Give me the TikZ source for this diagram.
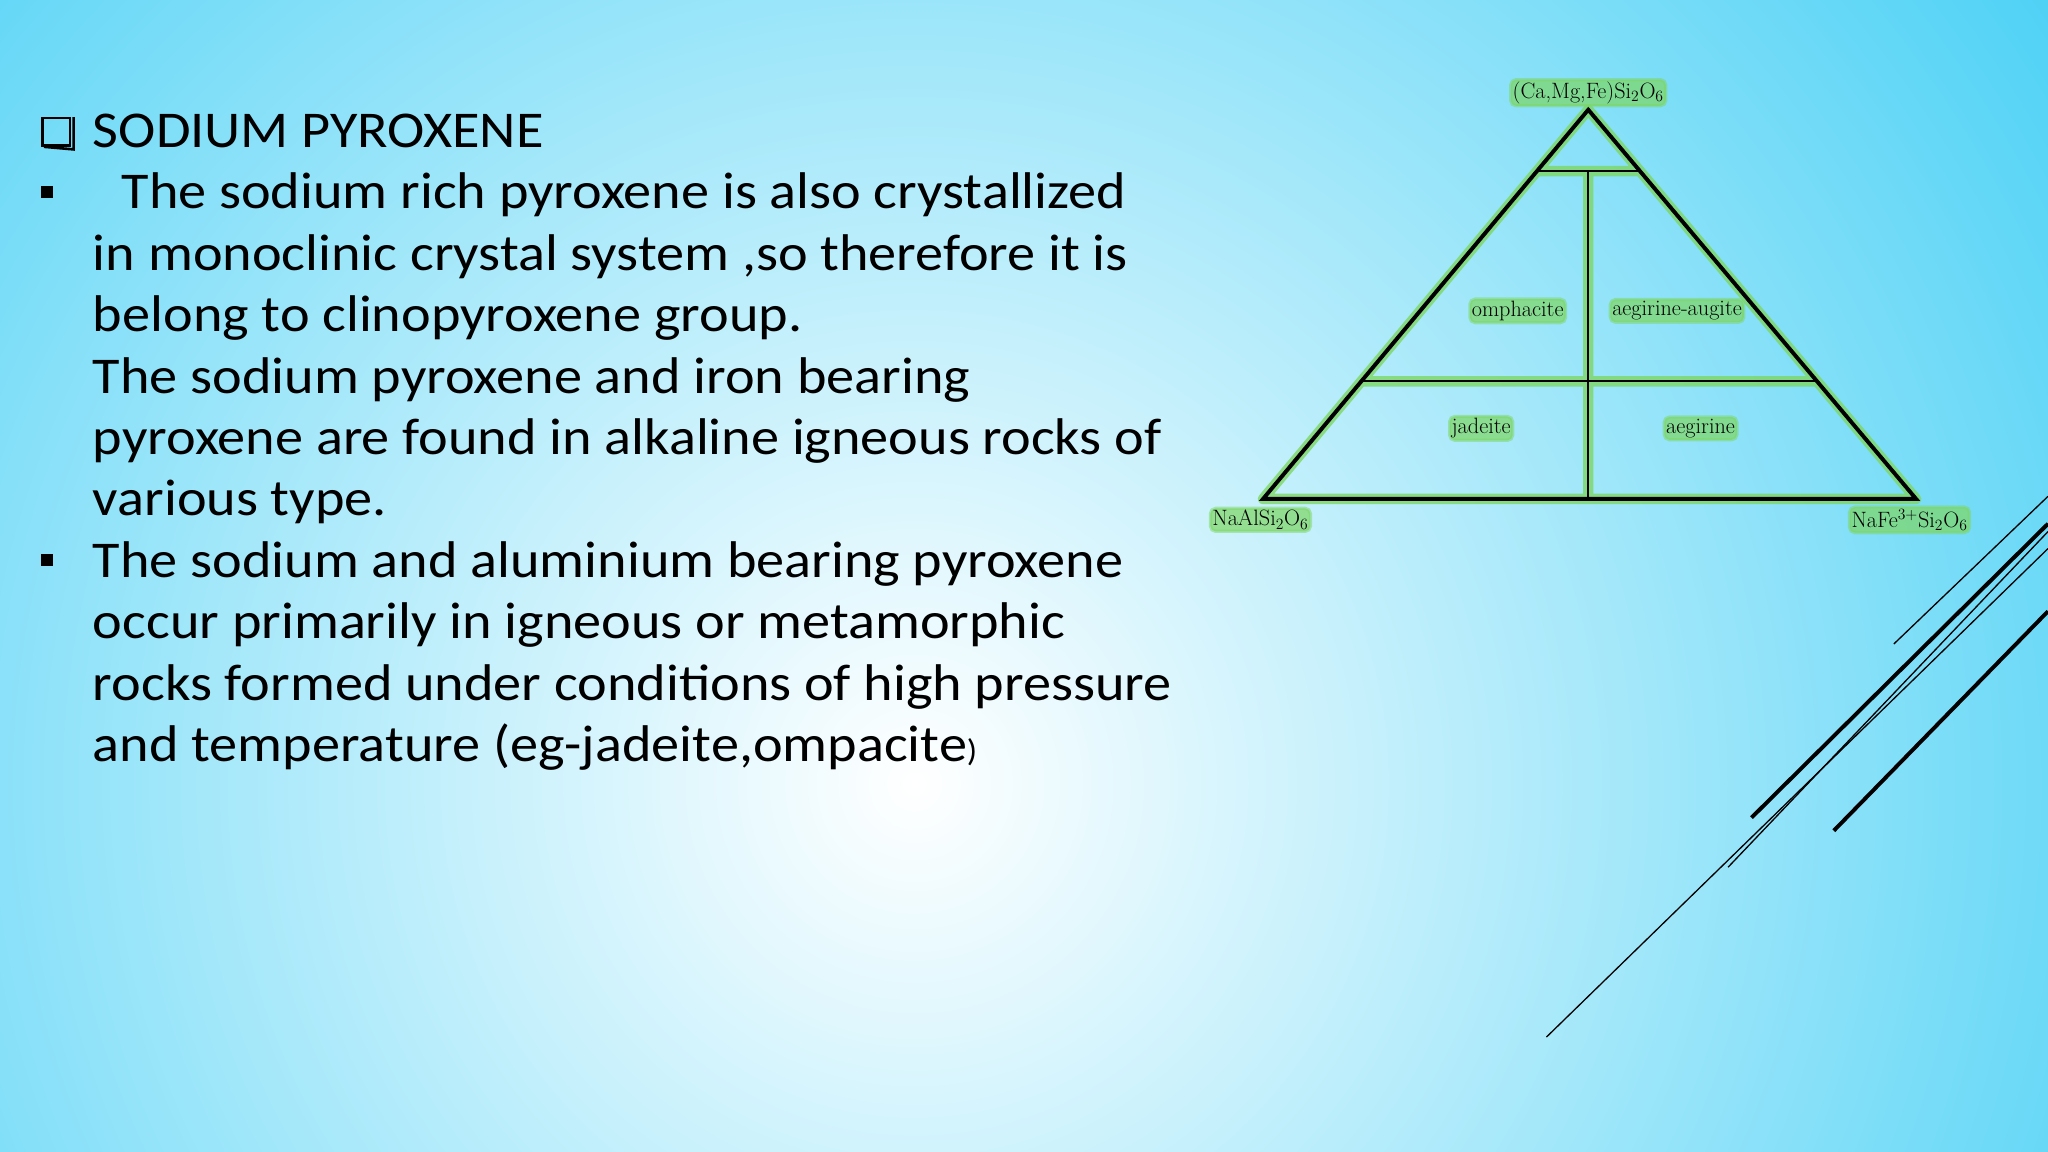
\documentclass[tikz,border=0pt]{standalone}
\usepackage{fontspec}
\setmainfont{Latin Modern Roman}
\newfontfamily\bodyfont[FakeStretch=1.09]{Carlito}
\begin{document}
\begin{tikzpicture}[x=1pt,y=-1pt,
  txt/.style={anchor=base west,inner sep=0pt,font=\bodyfont\fontsize{39.5}{40}\selectfont},
  lab/.style={font=\fontsize{17}{18}\selectfont,inner sep=1.5pt,fill=glowc,draw=glowc,line width=2.5pt,fill opacity=.7,draw opacity=.5,text opacity=1,rounded corners=4pt},
  glow/.style={line width=8pt,draw=glowc,opacity=.8,line join=round},
  outer/.style={line width=3pt,line join=miter},
  inner/.style={line width=1.6pt},
  deco/.style={line width=#1,black}]
\definecolor{basec}{RGB}{72,208,245}
\definecolor{glowc}{RGB}{125,215,100}
\clip (0,0) rectangle (1568,882);
\fill[basec] (0,0) rectangle (1568,882);
\shade[inner color=white,outer color=basec] (700,600) circle (1100);
\useasboundingbox (0,0) rectangle (1568,882);
% triangle
\coordinate (A) at (1216,84);
\coordinate (B) at (967,382);
\coordinate (C) at (1467,382);
\coordinate (u1) at (1177,131); \coordinate (u2) at (1255,131);
\coordinate (m1) at (1042,292); \coordinate (m2) at (1390,292);
\coordinate (vt) at (1216,131); \coordinate (vb) at (1216,382);
\draw[glow] (A)--(B)--(C)--cycle (u1)--(u2) (m1)--(m2) (vt)--(vb);
\draw[inner] (u1)--(u2) (m1)--(m2) (vt)--(vb);
\draw[outer] (A)--(B)--(C)--cycle;
\node[lab] (top) at (1216,71) {(Ca,Mg,Fe)Si$_2$O$_6$};
\node[lab] (bl) at (965,398) {NaAlSi$_2$O$_6$};
\node[lab] (br) at (1462,398) {NaFe$^{3+}$Si$_2$O$_6$};
\node[lab] (omp) at (1162,238) {omphacite};
\node[lab] (aeau) at (1284,238) {aegirine-augite};
\node[lab] (jad) at (1134,328) {jadeite};
\node[lab] (aeg) at (1302,328) {aegirine};
% deco lines
\draw[deco=1pt] (1568,380)--(1450,493);
\draw[deco=3pt] (1568,401)--(1341,626);
\draw[deco=1pt] (1568,407)--(1323,664);
\draw[deco=1pt] (1568,420)--(1184,794);
\draw[deco=3pt] (1568,468)--(1404,636);
% text
\node[draw,line width=1.8pt,minimum size=21pt,inner sep=0pt] (sq) at (43,101) {};
\draw[line width=2pt] ([xshift=2pt]sq.south west)--([xshift=2pt,yshift=-2pt]sq.south east)--([xshift=2pt]sq.north east);
\node[txt] (t0) at (71,113) {SODIUM PYROXENE};
\node[fill=black,minimum size=9pt,inner sep=0pt] (b1) at (36,147) {};
\node[txt] (t1) at (93,160) {The sodium rich pyroxene is also crystallized};
\node[txt] (t2) at (71,207) {in monoclinic crystal system ,so therefore it is};
\node[txt] (t3) at (71,254) {belong to clinopyroxene group.};
\node[txt] (t4) at (71,301) {The sodium pyroxene and iron bearing};
\node[txt] (t5) at (71,348) {pyroxene are found in alkaline igneous rocks of};
\node[txt] (t6) at (71,395) {various type.};
\node[fill=black,minimum size=9pt,inner sep=0pt] (b2) at (36,429) {};
\node[txt] (t7) at (71,442) {The sodium and aluminium bearing pyroxene};
\node[txt] (t8) at (71,489) {occur primarily in igneous or metamorphic};
\node[txt] (t9) at (71,536) {rocks formed under conditions of high pressure};
\node[txt] (t10) at (71,583) {and temperature (eg-jadeite,ompacite{\fontsize{24}{24}\selectfont)}};
\end{tikzpicture}
\end{document}
